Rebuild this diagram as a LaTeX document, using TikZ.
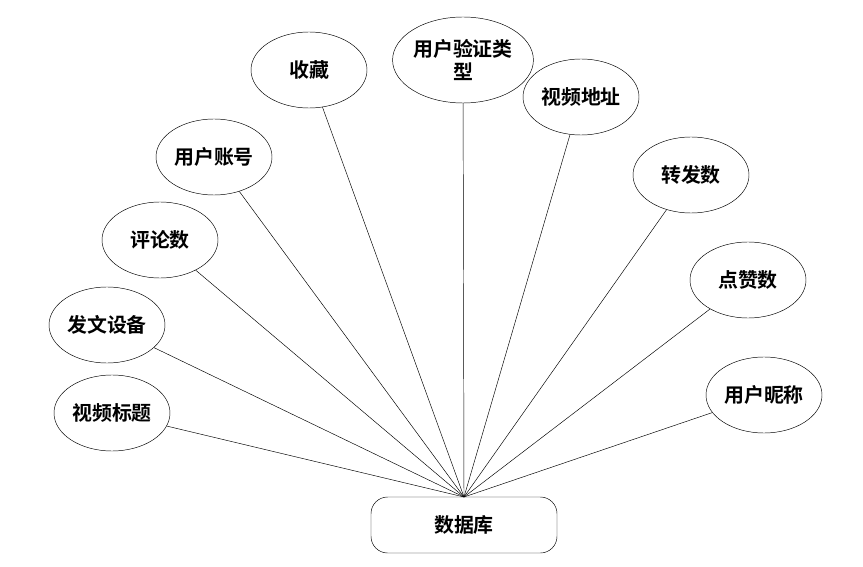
\documentclass[tikz,border=0pt]{standalone}
\usepackage{fontspec}
\newfontfamily\cjk{Noto Sans CJK SC Bold}
\usetikzlibrary{shapes.geometric}
\tikzset{
  attr/.style={draw, ellipse, inner sep=0pt, minimum width=3.48cm, minimum height=2.28cm,
    font=\cjk\fontsize{17}{20}\selectfont, align=center},
  db/.style={draw, rounded corners=0.5cm, minimum width=5.58cm, minimum height=1.68cm,
    font=\cjk\fontsize{17}{20}\selectfont}
}
\begin{document}
\begin{tikzpicture}[x=0.03cm,y=-0.03cm]
	\useasboundingbox (0,0) rectangle (863,567);
	\node[db] (db) at (464,525) {数据库};
	\coordinate (hub) at (464,497);
	\node[attr] (fav) at (309,70) {收藏};
	\node[attr, minimum width=3.78cm, minimum height=2.58cm] (type) at (463,60) {用户验证类\\型};
	\node[attr] (url) at (581,97) {视频地址};
	\node[attr] (acct) at (214,157) {用户账号};
	\node[attr] (fwd) at (691,175) {转发数};
	\node[attr] (cmt) at (160,240) {评论数};
	\node[attr] (like) at (748,280) {点赞数};
	\node[attr] (dev) at (107,325) {发文设备};
	\node[attr] (nick) at (764,395) {用户昵称};
	\node[attr] (title) at (112,413) {视频标题};
	\foreach \n in {fav,type,url,acct,fwd,cmt,like,dev,nick,title}{
		\draw (\n) -- (hub);
	};
\end{tikzpicture}
\end{document}
